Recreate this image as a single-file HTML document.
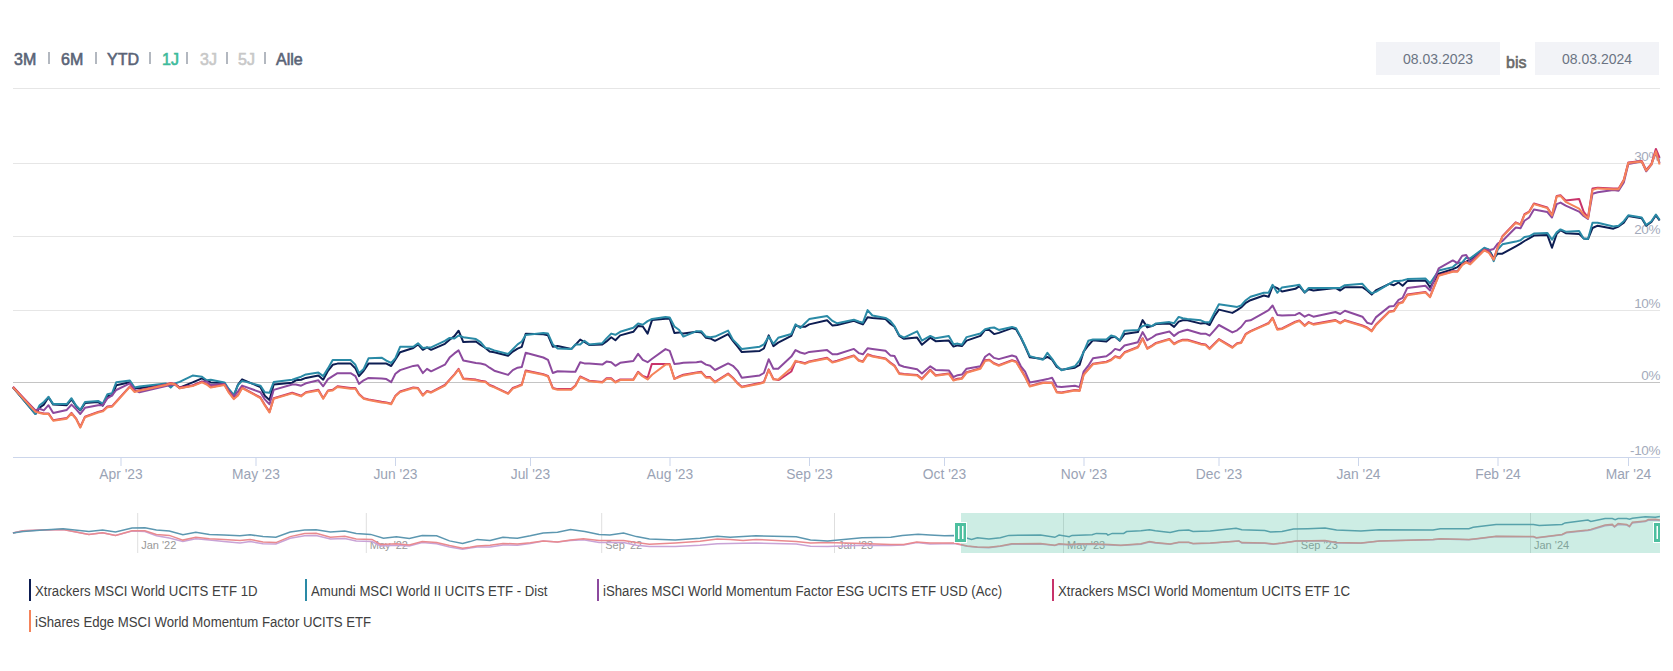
<!DOCTYPE html>
<html><head><meta charset="utf-8">
<style>
html,body{margin:0;padding:0;background:#fff;width:1673px;height:671px;overflow:hidden;position:relative;font-family:"Liberation Sans",sans-serif;}
.rs{position:absolute;top:51px;font-size:16px;font-weight:normal;-webkit-text-stroke:0.6px currentColor;color:#5a6477;line-height:17px;white-space:nowrap}
.sep{position:absolute;top:52px;width:2px;height:12px;background:#b3b8c0}
.date{position:absolute;top:42px;height:33px;width:124px;background:#f2f3f7;color:#6b7383;font-size:14px;line-height:35px;text-align:center}
.bis{position:absolute;left:1506px;top:54px;font-size:16px;font-weight:normal;-webkit-text-stroke:0.6px currentColor;color:#6a6a6a;line-height:17px}
.xl{font-family:"Liberation Sans",sans-serif;font-size:13.8px;fill:#9aa3b5}
.nl{font-family:"Liberation Sans",sans-serif;font-size:11px;fill:#999}
.yl{font-family:"Liberation Sans",sans-serif;font-size:13.5px;letter-spacing:-0.4px;fill:#a4abbb}
.lg{position:absolute;font-size:13.2px;color:#404040;line-height:16px;white-space:nowrap;transform:scaleY(1.12);transform-origin:0 0}
.lb{position:absolute;width:2px;height:22px}
</style></head><body>
<div class="rs" style="left:14px">3M</div>
<div class="sep" style="left:48px"></div>
<div class="rs" style="left:61px">6M</div>
<div class="sep" style="left:95px"></div>
<div class="rs" style="left:107px">YTD</div>
<div class="sep" style="left:149px"></div>
<div class="rs" style="left:162px;color:#3dbb9c">1J</div>
<div class="sep" style="left:186px"></div>
<div class="rs" style="left:200px;color:#c8c8c8">3J</div>
<div class="sep" style="left:226px"></div>
<div class="rs" style="left:238px;color:#c8c8c8">5J</div>
<div class="sep" style="left:264px"></div>
<div class="rs" style="left:276px">Alle</div>
<div class="date" style="left:1376px">08.03.2023</div>
<div class="bis">bis</div>
<div class="date" style="left:1535px">08.03.2024</div>
<svg width="1673" height="671" style="position:absolute;left:0;top:0">
<rect x="13" y="88" width="1647" height="1" fill="#e6e6e6"/>
<rect x="13" y="163.0" width="1647" height="1" fill="#e6e6e6"/>
<rect x="13" y="236.0" width="1647" height="1" fill="#e6e6e6"/>
<rect x="13" y="310.0" width="1647" height="1" fill="#e6e6e6"/>
<rect x="13" y="382" width="1647" height="1" fill="#c4c4c4"/>
<rect x="13" y="457" width="1647" height="1" fill="#ccd6eb"/>
<rect x="120.5" y="457" width="1" height="9" fill="#ccd6eb"/>
<text x="121.0" y="479" text-anchor="middle" class="xl">Apr '23</text>
<rect x="255.5" y="457" width="1" height="9" fill="#ccd6eb"/>
<text x="256.0" y="479" text-anchor="middle" class="xl">May '23</text>
<rect x="395.0" y="457" width="1" height="9" fill="#ccd6eb"/>
<text x="395.5" y="479" text-anchor="middle" class="xl">Jun '23</text>
<rect x="530.0" y="457" width="1" height="9" fill="#ccd6eb"/>
<text x="530.5" y="479" text-anchor="middle" class="xl">Jul '23</text>
<rect x="669.5" y="457" width="1" height="9" fill="#ccd6eb"/>
<text x="670.0" y="479" text-anchor="middle" class="xl">Aug '23</text>
<rect x="809.0" y="457" width="1" height="9" fill="#ccd6eb"/>
<text x="809.5" y="479" text-anchor="middle" class="xl">Sep '23</text>
<rect x="944.0" y="457" width="1" height="9" fill="#ccd6eb"/>
<text x="944.5" y="479" text-anchor="middle" class="xl">Oct '23</text>
<rect x="1083.5" y="457" width="1" height="9" fill="#ccd6eb"/>
<text x="1084.0" y="479" text-anchor="middle" class="xl">Nov '23</text>
<rect x="1218.5" y="457" width="1" height="9" fill="#ccd6eb"/>
<text x="1219.0" y="479" text-anchor="middle" class="xl">Dec '23</text>
<rect x="1358.0" y="457" width="1" height="9" fill="#ccd6eb"/>
<text x="1358.5" y="479" text-anchor="middle" class="xl">Jan '24</text>
<rect x="1497.5" y="457" width="1" height="9" fill="#ccd6eb"/>
<text x="1498.0" y="479" text-anchor="middle" class="xl">Feb '24</text>
<rect x="1628.0" y="457" width="1" height="9" fill="#ccd6eb"/>
<text x="1628.5" y="479" text-anchor="middle" class="xl">Mar '24</text>
<text x="1660" y="160.5" text-anchor="end" class="yl">30%</text>
<text x="1660" y="233.5" text-anchor="end" class="yl">20%</text>
<text x="1660" y="307.5" text-anchor="end" class="yl">10%</text>
<text x="1660" y="379.5" text-anchor="end" class="yl">0%</text>
<text x="1660" y="454.5" text-anchor="end" class="yl">-10%</text>
<rect x="137.2" y="513" width="1" height="40" fill="#000" fill-opacity="0.13"/>
<text x="141.2" y="549" class="nl">Jan '22</text>
<rect x="365.8" y="513" width="1" height="40" fill="#000" fill-opacity="0.13"/>
<text x="369.8" y="549" class="nl">May '22</text>
<rect x="601.2" y="513" width="1" height="40" fill="#000" fill-opacity="0.13"/>
<text x="605.2" y="549" class="nl">Sep '22</text>
<rect x="834.0" y="513" width="1" height="40" fill="#000" fill-opacity="0.13"/>
<text x="838.0" y="549" class="nl">Jan '23</text>
<rect x="1063.0" y="513" width="1" height="40" fill="#000" fill-opacity="0.13"/>
<text x="1067.0" y="549" class="nl">May '23</text>
<rect x="1296.8" y="513" width="1" height="40" fill="#000" fill-opacity="0.13"/>
<text x="1300.8" y="549" class="nl">Sep '23</text>
<rect x="1530.0" y="513" width="1" height="40" fill="#000" fill-opacity="0.13"/>
<text x="1534.0" y="549" class="nl">Jan '24</text>
<path d="M12.9,533.0 L23.0,530.8 L43.0,530.1 L63.1,529.4 L88.9,534.4 L102.6,532.7 L115.5,535.4 L132.0,531.1 L144.9,531.5 L156.4,535.8 L169.3,538.0 L182.9,541.6 L195.8,538.7 L209.4,540.1 L223.8,541.6 L240.0,543.0 L250.1,541.6 L263.0,543.7 L275.9,544.0 L290.2,538.3 L304.6,535.8 L316.1,535.6 L330.4,539.1 L344.8,538.4 L356.2,541.1 L372.0,541.6 L380.6,545.9 L396.4,545.2 L409.3,545.9 L422.2,542.6 L436.6,543.7 L449.5,546.9 L462.6,549.2 L470.0,548.0 L477.2,546.9 L490.1,546.9 L503.0,544.9 L517.4,545.2 L530.3,543.4 L543.2,541.1 L557.5,542.0 L570.5,540.6 L583.4,539.7 L599.1,542.6 L623.5,542.6 L636.4,545.2 L649.4,546.6 L675.2,546.6 L700.0,545.2 L717.3,543.7 L756.0,543.0 L796.2,544.0 L810.5,546.3 L827.7,546.6 L862.1,545.2 L890.8,545.5 L903.7,544.9 L916.7,542.6 L930.0,544.0 L954.4,543.4 L967.3,546.3 L977.4,547.3 L988.9,547.7 L1000.3,546.3 L1011.8,544.2 L1040.5,543.9 L1054.8,545.6 L1059.1,544.2 L1069.2,544.9 L1077.8,544.4 L1092.1,544.2 L1109.4,544.9 L1120.8,545.6 L1140.9,544.2 L1149.5,542.0 L1155.3,543.0 L1170.1,544.3 L1178.7,542.6 L1188.7,542.6 L1193.0,543.7 L1210.2,543.3 L1238.9,541.1 L1241.8,542.9 L1264.8,543.3 L1273.4,544.3 L1282.0,543.3 L1296.3,541.1 L1325.0,540.9 L1336.5,542.9 L1360.9,543.3 L1379.5,541.1 L1433.0,539.7 L1440.2,539.0 L1468.9,539.7 L1476.0,539.0 L1496.1,536.6 L1533.4,536.8 L1536.3,538.0 L1562.1,534.7 L1566.4,532.7 L1587.9,530.5 L1590.8,530.0 L1605.1,525.8 L1612.3,525.1 L1614.5,527.1 L1618.1,524.4 L1626.7,525.1 L1629.5,526.8 L1632.4,522.9 L1645.3,521.6 L1648.2,520.2 L1655.3,519.9 L1659.9,520.5" fill="none" stroke="#c9a3d6" stroke-width="1.5"/>
<path d="M12.9,533.0 L23.0,530.8 L43.0,530.1 L63.1,529.4 L88.9,534.4 L102.6,532.7 L115.5,535.4 L132.0,530.8 L144.9,530.8 L156.4,534.4 L169.3,535.4 L182.9,540.1 L195.8,537.3 L209.4,538.7 L223.8,539.4 L240.0,540.6 L250.1,539.4 L263.0,542.0 L275.9,542.6 L290.2,536.6 L304.6,533.4 L316.1,533.3 L330.4,537.3 L344.8,536.3 L356.2,539.1 L372.0,539.4 L380.6,544.4 L396.4,543.7 L409.3,544.9 L422.2,541.6 L436.6,542.6 L449.5,545.6 L462.6,548.3 L470.0,547.3 L477.2,545.9 L490.1,545.2 L503.0,543.4 L517.4,544.0 L530.3,542.7 L543.2,540.9 L557.5,542.0 L570.5,539.9 L583.4,538.7 L599.1,540.6 L623.5,540.6 L636.4,542.6 L649.4,544.2 L675.2,543.0 L700.0,541.3 L717.3,539.0 L730.2,539.4 L743.1,540.6 L756.0,539.4 L796.2,541.6 L810.5,543.0 L827.7,542.6 L862.1,543.4 L890.8,544.4 L903.7,544.4 L916.7,542.0 L930.0,543.0 L954.4,543.0 L967.3,545.9 L977.4,546.9 L988.9,547.3 L1000.3,545.9 L1011.8,543.7 L1040.5,543.4 L1054.8,545.2 L1059.1,543.7 L1069.2,544.4 L1077.8,544.0 L1092.1,543.7 L1109.4,544.4 L1120.8,545.2 L1140.9,543.7 L1149.5,541.6 L1155.3,542.6 L1170.1,544.0 L1178.7,542.3 L1188.7,542.3 L1193.0,543.4 L1210.2,543.0 L1238.9,540.9 L1241.8,542.6 L1264.8,543.0 L1273.4,544.0 L1282.0,543.0 L1296.3,540.9 L1325.0,540.6 L1336.5,542.6 L1360.9,543.0 L1379.5,540.9 L1433.0,539.4 L1440.2,538.7 L1468.9,539.4 L1476.0,538.7 L1496.1,536.3 L1533.4,536.6 L1536.3,537.7 L1562.1,534.4 L1566.4,532.3 L1587.9,530.1 L1590.8,529.4 L1605.1,525.1 L1612.3,524.4 L1614.5,526.5 L1618.1,523.6 L1626.7,524.4 L1629.5,526.2 L1632.4,522.2 L1645.3,521.1 L1648.2,519.6 L1655.3,519.3 L1659.9,520.1" fill="none" stroke="#e98a8f" stroke-width="1.5"/>
<path d="M12.9,533.0 L23.0,531.5 L43.0,530.1 L63.1,528.7 L88.9,531.5 L102.6,530.1 L115.5,532.0 L132.0,528.0 L144.9,527.7 L156.4,530.1 L169.3,531.1 L182.9,534.8 L195.8,532.3 L209.4,534.4 L223.8,535.1 L240.0,535.8 L250.1,534.8 L263.0,536.6 L275.9,537.3 L290.2,532.0 L304.6,530.1 L316.1,529.8 L330.4,532.0 L344.8,531.1 L356.2,533.4 L370.6,534.4 L383.5,538.3 L396.4,536.8 L409.3,538.4 L422.2,535.6 L436.6,535.8 L449.5,540.9 L462.6,543.4 L470.0,541.6 L477.2,539.4 L490.1,540.6 L503.0,537.3 L517.4,538.3 L530.3,535.8 L543.2,533.0 L557.5,532.3 L570.5,529.4 L584.8,531.5 L599.1,534.4 L609.9,535.1 L623.5,533.0 L636.4,536.6 L649.4,539.1 L675.2,539.9 L700.0,538.3 L717.3,536.3 L730.2,537.3 L756.0,535.8 L796.2,536.8 L810.5,540.1 L827.7,540.9 L862.1,537.7 L890.8,537.3 L902.3,535.4 L918.1,534.3 L930.0,535.1 L944.4,535.8 L953.7,535.4 L967.3,538.3 L971.6,539.4 L977.4,537.7 L988.9,539.0 L1000.3,537.7 L1008.9,535.4 L1040.5,535.1 L1054.8,537.3 L1059.1,535.1 L1069.2,536.8 L1072.1,535.4 L1092.1,534.8 L1096.4,533.4 L1106.5,533.7 L1107.9,535.1 L1112.2,533.4 L1123.7,533.4 L1126.6,531.5 L1140.9,530.8 L1149.5,529.7 L1155.3,530.8 L1170.1,532.5 L1178.7,530.5 L1188.7,530.1 L1193.0,531.5 L1210.2,531.1 L1236.1,528.2 L1241.8,529.7 L1264.8,530.5 L1270.5,532.0 L1282.0,531.5 L1293.5,529.1 L1307.8,528.7 L1325.0,528.0 L1336.5,530.1 L1360.9,531.1 L1379.5,529.7 L1433.0,530.1 L1440.2,528.7 L1468.9,528.7 L1473.2,527.2 L1496.1,524.4 L1533.4,524.4 L1539.2,525.4 L1562.1,524.4 L1565.0,522.9 L1587.9,520.1 L1590.8,521.5 L1605.1,518.6 L1612.3,518.6 L1615.2,519.6 L1618.1,518.6 L1626.7,518.6 L1629.5,519.3 L1632.4,518.2 L1645.3,516.8 L1655.3,517.2 L1659.9,516.5" fill="none" stroke="#5c97b0" stroke-width="1.5"/>
<rect x="961" y="513" width="699" height="40" fill="#4dbf9f" fill-opacity="0.28"/>
<rect x="954.5" y="522.5" width="12" height="20" fill="#4dbf9f" stroke="#fff" stroke-width="1"/>
<rect x="958" y="526" width="1.5" height="13" fill="#fff"/><rect x="962" y="526" width="1.5" height="13" fill="#fff"/>
<rect x="1653.5" y="522.5" width="12" height="20" fill="#4dbf9f" stroke="#fff" stroke-width="1"/>
<rect x="1656.5" y="526" width="1.5" height="13" fill="#fff"/>
<rect x="1660" y="505" width="13" height="60" fill="#fff"/>
<path d="M13.0,387.4 L35.5,414.0 L39.6,407.8 L43.8,404.6 L48.5,397.3 L53.2,404.6 L66.8,405.2 L71.5,399.4 L76.2,406.2 L80.3,410.4 L85.0,403.1 L98.1,402.0 L102.8,405.7 L107.4,396.3 L112.1,395.3 L116.3,385.3 L129.9,382.2 L134.6,388.3 L139.4,388.2 L166.0,384.0 L170.7,385.0 L174.9,384.0 L179.6,387.6 L192.6,382.4 L202.0,378.3 L206.7,380.9 L210.8,382.4 L224.4,383.0 L228.6,390.3 L233.8,396.0 L238.0,384.5 L242.1,379.3 L260.4,387.1 L264.8,395.8 L269.5,400.0 L273.7,384.5 L292.2,382.7 L295.8,380.3 L301.1,379.7 L305.9,377.9 L318.4,375.5 L323.2,379.7 L328.0,370.8 L332.7,364.8 L337.5,363.6 L350.6,363.6 L355.4,368.4 L359.0,376.1 L363.7,370.8 L368.5,363.6 L381.6,363.6 L386.4,363.6 L391.2,366.0 L395.4,359.4 L400.1,352.2 L413.3,348.0 L418.0,344.4 L422.8,349.8 L427.0,347.4 L431.1,349.8 L444.9,343.8 L449.6,339.7 L454.4,336.1 L458.6,330.7 L463.3,342.1 L475.9,341.5 L480.6,345.0 L485.4,348.0 L489.6,351.6 L494.3,352.2 L508.1,355.8 L512.8,351.6 L517.6,348.6 L521.8,346.8 L525.7,333.7 L543.3,334.2 L548.0,335.4 L552.8,346.7 L557.6,346.1 L571.3,349.1 L575.4,344.9 L580.2,339.6 L584.4,342.0 L589.2,344.9 L602.3,344.4 L606.5,341.4 L611.2,337.2 L615.4,340.2 L620.2,335.4 L633.3,331.8 L638.1,325.9 L642.8,326.5 L647.6,333.6 L652.1,319.9 L665.5,318.7 L669.7,318.7 L674.4,333.0 L679.2,332.4 L683.4,333.6 L696.5,331.8 L701.3,332.4 L706.0,337.8 L710.2,338.4 L715.0,340.8 L728.1,334.2 L732.9,340.8 L737.6,346.7 L741.8,352.1 L759.7,350.9 L763.9,348.5 L768.7,335.4 L773.4,346.1 L778.2,342.6 L791.3,335.8 L795.5,325.6 L800.3,326.8 L805.0,326.8 L809.2,324.4 L827.1,320.3 L832.5,325.6 L837.2,325.0 L853.9,320.9 L858.7,322.7 L862.9,324.4 L867.6,317.3 L872.4,317.9 L885.5,319.1 L890.3,323.8 L894.5,326.8 L899.2,335.8 L904.0,338.8 L917.1,337.6 L921.9,344.8 L930.3,337.7 L935.6,341.2 L948.8,340.6 L953.5,346.6 L957.7,345.4 L961.9,346.0 L966.6,340.6 L980.4,335.9 L985.1,329.9 L989.3,329.9 L994.1,334.1 L998.8,332.9 L1012.0,328.1 L1016.1,329.3 L1020.9,337.7 L1025.1,346.6 L1029.8,357.3 L1043.0,359.1 L1047.4,356.9 L1052.1,359.6 L1056.8,367.0 L1061.5,369.7 L1074.9,367.7 L1079.6,365.0 L1083.6,351.6 L1088.3,345.5 L1093.0,340.2 L1106.4,341.5 L1111.1,337.5 L1115.1,336.8 L1119.8,340.8 L1124.5,334.1 L1137.9,332.1 L1142.6,320.1 L1147.3,327.4 L1152.0,326.1 L1156.0,324.1 L1169.4,323.4 L1174.1,326.9 L1178.7,321.6 L1182.7,320.3 L1187.4,320.3 L1200.8,323.6 L1205.5,323.0 L1209.6,325.0 L1214.3,316.3 L1218.9,309.6 L1232.4,312.9 L1237.1,310.2 L1241.1,307.5 L1245.8,302.9 L1250.5,300.2 L1263.9,295.5 L1268.6,296.8 L1272.6,286.1 L1277.3,288.1 L1282.0,291.5 L1295.4,288.8 L1299.4,286.1 L1304.7,292.5 L1308.7,289.2 L1313.4,290.5 L1335.5,287.9 L1340.2,290.5 L1344.9,287.2 L1362.4,287.2 L1367.1,290.5 L1371.7,294.6 L1375.8,290.5 L1389.2,283.8 L1393.9,285.2 L1398.6,282.5 L1402.6,285.8 L1407.3,281.1 L1425.4,280.5 L1430.1,287.2 L1438.7,273.8 L1452.8,269.1 L1457.5,267.1 L1462.2,263.1 L1466.2,261.7 L1470.2,259.7 L1484.3,249.0 L1489.0,249.7 L1493.7,258.4 L1497.7,253.7 L1502.4,253.7 L1515.8,246.3 L1520.5,243.6 L1524.5,241.0 L1529.2,238.3 L1533.9,235.6 L1547.3,234.9 L1552.0,247.7 L1556.7,233.9 L1560.5,230.2 L1565.7,233.2 L1579.1,233.9 L1583.6,238.4 L1588.0,239.1 L1592.5,228.0 L1597.7,225.7 L1613.4,228.7 L1618.6,226.5 L1623.8,222.7 L1628.3,216.0 L1641.7,218.3 L1646.2,225.7 L1651.4,222.0 L1655.9,215.3 L1659.6,220.5" fill="none" stroke="#0d1d52" stroke-width="2" stroke-linejoin="round" stroke-linecap="butt"/>
<path d="M13.0,387.4 L35.5,414.0 L39.6,405.2 L43.8,402.0 L48.5,396.8 L53.2,404.1 L66.8,404.1 L71.5,398.2 L76.2,405.7 L80.3,409.9 L85.0,402.0 L98.1,401.0 L102.8,403.6 L107.4,394.2 L112.1,393.2 L116.3,382.2 L129.9,380.6 L134.6,387.5 L139.4,386.6 L166.0,383.5 L170.7,387.6 L174.9,383.5 L179.6,381.9 L192.6,375.6 L202.0,376.7 L206.7,380.3 L210.8,379.8 L224.4,382.4 L228.6,388.7 L233.8,394.9 L238.0,385.0 L242.1,380.9 L260.4,385.6 L264.8,392.2 L269.5,392.8 L273.7,382.1 L292.2,379.7 L295.8,378.5 L301.1,376.7 L305.9,374.4 L318.4,372.6 L323.2,376.1 L328.0,368.4 L332.7,360.0 L337.5,360.0 L350.6,360.0 L355.4,364.8 L359.0,373.2 L363.7,369.0 L368.5,358.3 L381.6,357.7 L386.4,360.6 L391.2,363.0 L395.4,358.2 L400.1,346.8 L413.3,346.8 L418.0,343.3 L422.8,348.0 L427.0,347.4 L431.1,347.4 L444.9,340.9 L449.6,337.9 L454.4,338.5 L458.6,335.5 L463.3,337.3 L475.9,339.1 L480.6,342.1 L485.4,348.0 L489.6,348.6 L494.3,350.4 L508.1,354.0 L512.8,349.2 L517.6,344.4 L521.8,341.5 L525.7,334.9 L543.3,333.0 L548.0,333.6 L552.8,344.4 L557.6,348.5 L571.3,349.1 L575.4,344.4 L580.2,344.4 L584.4,340.8 L589.2,344.4 L602.3,343.2 L606.5,338.4 L611.2,333.6 L615.4,334.8 L620.2,331.8 L633.3,327.7 L638.1,323.5 L642.8,324.7 L647.6,321.1 L652.1,319.0 L665.5,316.9 L669.7,317.5 L674.4,326.5 L679.2,330.0 L683.4,336.6 L696.5,331.2 L701.3,331.2 L706.0,336.6 L710.2,337.2 L715.0,336.6 L728.1,330.6 L732.9,339.6 L737.6,344.4 L741.8,349.1 L759.7,346.7 L763.9,344.4 L768.7,336.6 L773.4,343.8 L778.2,337.8 L791.3,334.0 L795.5,324.4 L800.3,328.0 L805.0,323.3 L809.2,319.1 L827.1,316.1 L832.5,320.9 L837.2,323.3 L853.9,319.7 L858.7,321.5 L862.9,322.7 L867.6,310.1 L872.4,315.5 L885.5,317.9 L890.3,320.9 L894.5,326.2 L899.2,335.2 L904.0,337.6 L917.1,331.3 L921.9,340.6 L930.3,335.9 L935.6,338.3 L948.8,335.9 L953.5,344.2 L957.7,343.6 L961.9,344.8 L966.6,337.1 L980.4,333.5 L985.1,329.3 L989.3,328.1 L994.1,327.5 L998.8,329.9 L1012.0,326.9 L1016.1,328.1 L1020.9,337.1 L1025.1,346.0 L1029.8,356.1 L1043.0,359.7 L1047.4,352.9 L1052.1,358.9 L1056.8,365.7 L1061.5,370.3 L1074.9,366.3 L1079.6,360.3 L1083.6,352.2 L1088.3,340.8 L1093.0,339.5 L1106.4,339.5 L1111.1,335.5 L1115.1,336.8 L1119.8,340.2 L1124.5,330.8 L1137.9,330.1 L1142.6,326.1 L1147.3,324.8 L1152.0,326.1 L1156.0,323.4 L1169.4,322.1 L1174.1,323.2 L1178.7,316.9 L1182.7,318.3 L1187.4,318.9 L1200.8,320.3 L1205.5,322.3 L1209.6,322.3 L1214.3,312.9 L1218.9,304.2 L1232.4,306.2 L1237.1,306.9 L1241.1,305.5 L1245.8,300.2 L1250.5,296.8 L1263.9,292.8 L1268.6,292.8 L1272.6,284.8 L1277.3,292.8 L1282.0,287.4 L1295.4,285.4 L1299.4,284.8 L1304.7,292.5 L1308.7,287.9 L1313.4,287.9 L1335.5,287.9 L1340.2,287.9 L1344.9,285.2 L1362.4,283.8 L1367.1,289.2 L1371.7,293.2 L1375.8,291.9 L1389.2,283.8 L1393.9,281.1 L1398.6,281.1 L1402.6,280.5 L1407.3,279.1 L1425.4,278.5 L1430.1,283.2 L1438.7,270.5 L1452.8,267.1 L1457.5,263.1 L1462.2,262.4 L1466.2,257.7 L1470.2,258.4 L1484.3,247.7 L1489.0,249.7 L1493.7,261.1 L1497.7,249.7 L1502.4,244.3 L1515.8,241.6 L1520.5,240.3 L1524.5,236.9 L1529.2,236.3 L1533.9,233.6 L1547.3,232.9 L1552.0,239.6 L1556.7,232.4 L1560.5,229.4 L1565.7,231.7 L1579.1,230.9 L1583.6,238.4 L1588.0,239.1 L1592.5,222.7 L1597.7,222.7 L1613.4,226.5 L1618.6,225.7 L1623.8,221.2 L1628.3,215.3 L1641.7,217.5 L1646.2,225.0 L1651.4,221.2 L1655.9,214.5 L1659.6,219.8" fill="none" stroke="#2a8aa6" stroke-width="2" stroke-linejoin="round" stroke-linecap="butt"/>
<path d="M13.0,387.4 L35.5,410.4 L39.6,408.8 L43.8,410.4 L48.5,405.2 L53.2,413.0 L66.8,409.9 L71.5,404.6 L76.2,409.3 L80.3,414.0 L85.0,407.8 L98.1,405.2 L102.8,405.2 L107.4,398.4 L112.1,395.3 L116.3,390.0 L129.9,383.3 L134.6,389.9 L139.4,392.3 L166.0,386.1 L170.7,385.0 L174.9,384.5 L179.6,388.2 L192.6,385.6 L202.0,381.4 L206.7,381.4 L210.8,385.0 L224.4,384.0 L228.6,390.3 L233.8,396.5 L238.0,391.3 L242.1,385.6 L260.4,392.3 L264.8,399.4 L269.5,404.2 L273.7,389.9 L292.2,384.5 L295.8,384.5 L301.1,385.7 L305.9,383.3 L318.4,380.3 L323.2,386.3 L328.0,379.1 L332.7,376.1 L337.5,373.2 L350.6,373.2 L355.4,376.1 L359.0,383.9 L363.7,380.3 L368.5,377.9 L381.6,378.5 L386.4,379.1 L391.2,382.1 L395.4,373.7 L400.1,370.1 L413.3,365.9 L418.0,365.3 L422.8,373.1 L427.0,368.9 L431.1,371.3 L444.9,364.7 L449.6,357.6 L454.4,353.4 L458.6,350.4 L463.3,360.5 L475.9,362.9 L480.6,363.5 L485.4,364.7 L489.6,367.7 L494.3,370.7 L508.1,374.9 L512.8,370.1 L517.6,367.7 L521.8,367.1 L525.7,352.7 L543.3,357.5 L548.0,359.9 L552.8,373.0 L557.6,371.2 L571.3,371.8 L575.4,371.8 L580.2,362.2 L584.4,363.4 L589.2,363.4 L602.3,364.6 L606.5,361.6 L611.2,362.2 L615.4,365.8 L620.2,362.8 L633.3,361.0 L638.1,353.9 L642.8,359.9 L647.6,362.2 L652.1,358.7 L665.5,349.1 L669.7,350.9 L674.4,364.0 L679.2,363.4 L683.4,362.8 L696.5,362.2 L701.3,361.6 L706.0,364.6 L710.2,365.8 L715.0,370.0 L728.1,363.4 L732.9,365.8 L737.6,370.6 L741.8,377.7 L759.7,375.4 L763.9,373.0 L768.7,359.3 L773.4,368.8 L778.2,368.8 L791.3,356.6 L795.5,350.1 L800.3,352.5 L805.0,353.7 L809.2,351.9 L827.1,350.1 L832.5,354.3 L837.2,354.3 L853.9,348.9 L858.7,353.1 L862.9,354.3 L867.6,348.3 L872.4,348.9 L885.5,350.7 L890.3,355.4 L894.5,356.0 L899.2,365.0 L904.0,366.8 L917.1,369.2 L921.9,373.4 L930.3,366.3 L935.6,369.9 L948.8,370.4 L953.5,377.0 L957.7,375.2 L961.9,374.6 L966.6,368.7 L980.4,366.3 L985.1,356.7 L989.3,353.8 L994.1,357.9 L998.8,359.1 L1012.0,355.5 L1016.1,356.7 L1020.9,366.3 L1025.1,371.6 L1029.8,382.4 L1043.0,380.0 L1047.4,379.1 L1052.1,377.7 L1056.8,386.4 L1061.5,387.1 L1074.9,385.8 L1079.6,387.1 L1083.6,371.7 L1088.3,365.7 L1093.0,358.3 L1106.4,356.3 L1111.1,352.9 L1115.1,348.9 L1119.8,350.2 L1124.5,345.5 L1137.9,342.2 L1142.6,332.1 L1147.3,340.2 L1152.0,337.5 L1156.0,334.8 L1169.4,331.5 L1174.1,335.9 L1178.7,332.4 L1182.7,331.0 L1187.4,329.7 L1200.8,333.7 L1205.5,333.7 L1209.6,335.7 L1214.3,330.3 L1218.9,325.0 L1232.4,332.4 L1237.1,330.3 L1241.1,327.0 L1245.8,321.0 L1250.5,320.3 L1263.9,312.9 L1268.6,310.2 L1272.6,305.5 L1277.3,314.9 L1282.0,315.6 L1295.4,314.9 L1299.4,312.9 L1304.7,316.7 L1308.7,314.7 L1313.4,316.7 L1335.5,312.0 L1340.2,314.0 L1344.9,310.7 L1362.4,316.7 L1367.1,322.7 L1371.7,324.1 L1375.8,317.4 L1389.2,306.6 L1393.9,306.0 L1398.6,299.9 L1402.6,297.9 L1407.3,287.9 L1425.4,285.8 L1430.1,290.5 L1438.7,268.4 L1452.8,260.4 L1457.5,263.1 L1462.2,255.7 L1466.2,255.0 L1470.2,261.7 L1484.3,249.7 L1489.0,250.3 L1493.7,249.0 L1497.7,243.6 L1502.4,241.0 L1515.8,227.5 L1520.5,228.2 L1524.5,220.8 L1529.2,217.5 L1533.9,209.4 L1547.3,212.1 L1552.0,217.5 L1556.7,204.1 L1560.5,202.6 L1565.7,205.6 L1579.1,211.6 L1583.6,216.0 L1588.0,219.0 L1592.5,193.7 L1597.7,192.2 L1613.4,189.9 L1618.6,190.7 L1623.8,182.5 L1628.3,163.9 L1641.7,161.6 L1646.2,171.3 L1651.4,164.6 L1655.9,151.9 L1659.6,163.1" fill="none" stroke="#8c4a9e" stroke-width="2" stroke-linejoin="round" stroke-linecap="butt"/>
<path d="M13.0,386.8 L35.5,411.3 L39.6,412.4 L43.8,413.4 L48.5,413.4 L53.2,420.2 L66.8,418.1 L71.5,412.9 L76.2,418.6 L80.3,427.0 L85.0,416.6 L98.1,411.9 L102.8,410.8 L107.4,406.6 L112.1,406.1 L116.3,401.4 L129.9,386.3 L134.6,391.4 L139.4,390.2 L166.0,384.4 L170.7,382.9 L174.9,383.9 L179.6,387.6 L192.6,385.5 L202.0,381.8 L206.7,383.9 L210.8,387.0 L224.4,384.4 L228.6,391.7 L233.8,398.5 L238.0,394.9 L242.1,387.6 L260.4,397.5 L264.8,404.8 L269.5,411.9 L273.7,398.2 L292.2,392.8 L295.8,394.0 L301.1,395.8 L305.9,392.2 L318.4,389.8 L323.2,398.2 L328.0,390.4 L332.7,389.8 L337.5,386.3 L350.6,388.1 L355.4,388.1 L359.0,394.0 L363.7,398.2 L368.5,399.4 L381.6,401.8 L386.4,402.4 L391.2,403.6 L395.4,395.7 L400.1,391.5 L413.3,387.4 L418.0,388.0 L422.8,395.1 L427.0,390.9 L431.1,392.1 L444.9,385.0 L449.6,379.6 L454.4,374.3 L458.6,368.9 L463.3,378.4 L475.9,379.6 L480.6,380.8 L485.4,381.4 L489.6,385.0 L494.3,386.8 L508.1,393.3 L512.8,388.0 L517.6,386.2 L521.8,384.4 L525.7,370.6 L543.3,374.2 L548.0,375.9 L552.8,387.9 L557.6,389.1 L571.3,389.1 L575.4,385.5 L580.2,376.5 L584.4,378.3 L589.2,380.7 L602.3,381.9 L606.5,378.3 L611.2,378.3 L615.4,381.9 L620.2,379.5 L633.3,379.5 L638.1,371.8 L642.8,375.9 L647.6,377.7 L651.8,364.0 L652.4,364.0 L665.5,364.0 L669.7,364.0 L674.4,378.9 L679.2,376.5 L683.4,374.8 L696.5,372.4 L701.3,371.8 L706.0,377.1 L710.2,377.1 L715.0,381.9 L728.1,373.6 L732.9,377.7 L737.6,383.1 L741.8,386.7 L759.7,383.1 L763.9,381.9 L768.7,369.4 L773.4,378.9 L778.2,380.1 L780.0,379.3 L791.3,371.5 L795.5,361.4 L800.3,362.0 L805.0,363.2 L809.2,361.4 L827.1,357.8 L832.5,362.0 L837.2,360.8 L853.9,355.4 L858.7,360.2 L862.9,361.4 L867.6,354.3 L872.4,356.0 L885.5,358.4 L890.3,362.6 L894.5,365.6 L899.2,373.3 L904.0,373.9 L917.1,374.9 L921.9,378.8 L930.3,369.8 L935.6,375.2 L948.8,373.4 L953.5,380.0 L957.7,378.8 L961.9,378.2 L966.6,372.2 L980.4,368.1 L985.1,360.3 L989.3,359.7 L994.1,363.3 L998.8,365.1 L1012.0,360.3 L1016.1,361.5 L1020.9,369.3 L1025.1,376.4 L1029.8,385.9 L1043.0,382.4 L1047.4,382.5 L1052.1,382.5 L1056.8,391.9 L1061.5,392.5 L1074.9,389.9 L1079.6,390.5 L1083.6,374.4 L1088.3,369.1 L1093.0,363.7 L1106.4,361.7 L1111.1,359.7 L1115.1,356.3 L1119.8,357.7 L1124.5,352.3 L1137.9,346.9 L1142.6,338.2 L1147.3,348.3 L1152.0,345.6 L1156.0,342.9 L1169.4,338.9 L1174.1,343.7 L1178.7,341.1 L1182.7,339.8 L1187.4,339.8 L1200.8,343.8 L1205.5,344.5 L1209.6,348.5 L1214.3,343.8 L1218.9,339.1 L1232.4,347.2 L1237.1,343.2 L1241.1,342.5 L1245.8,333.8 L1250.5,331.1 L1263.9,325.1 L1268.6,323.0 L1272.6,317.7 L1277.3,329.1 L1282.0,328.4 L1295.4,321.7 L1299.4,320.4 L1304.7,325.5 L1308.7,322.1 L1313.4,324.1 L1335.5,320.1 L1340.2,322.8 L1344.9,320.1 L1362.4,325.5 L1367.1,327.5 L1371.7,330.8 L1375.8,324.8 L1389.2,311.4 L1393.9,310.7 L1398.6,303.3 L1402.6,302.0 L1407.3,294.6 L1425.4,291.9 L1430.1,296.6 L1438.7,275.2 L1452.8,271.2 L1457.5,271.2 L1462.2,264.5 L1466.2,261.8 L1470.2,263.8 L1484.3,249.7 L1489.0,252.4 L1493.7,259.1 L1497.7,247.1 L1502.4,236.3 L1515.8,222.3 L1520.5,224.3 L1524.5,214.2 L1529.2,211.5 L1533.9,203.5 L1547.3,207.5 L1552.0,214.9 L1556.7,196.0 L1560.5,195.3 L1565.7,200.4 L1579.1,198.9 L1583.6,211.6 L1588.0,217.5 L1592.5,188.4 L1597.7,187.8 L1613.4,188.6 L1618.6,188.6 L1623.8,179.7 L1628.3,162.5 L1641.7,161.0 L1646.2,170.0 L1651.4,164.0 L1655.9,148.9 L1659.6,157.9" fill="none" stroke="#c8336a" stroke-width="2" stroke-linejoin="round" stroke-linecap="butt"/>
<path d="M13.0,387.4 L35.5,411.9 L39.6,413.0 L43.8,414.0 L48.5,414.0 L53.2,420.8 L66.8,418.7 L71.5,413.5 L76.2,419.2 L80.3,427.6 L85.0,417.2 L98.1,412.5 L102.8,411.4 L107.4,407.2 L112.1,406.7 L116.3,402.0 L129.9,386.9 L134.6,392.0 L139.4,390.8 L166.0,385.0 L170.7,383.5 L174.9,384.5 L179.6,388.2 L192.6,386.1 L202.0,382.4 L206.7,384.5 L210.8,387.6 L224.4,385.0 L228.6,392.3 L233.8,399.1 L238.0,395.5 L242.1,388.2 L260.4,398.1 L264.8,405.4 L269.5,412.5 L273.7,398.8 L292.2,393.4 L295.8,394.6 L301.1,396.4 L305.9,392.8 L318.4,390.4 L323.2,398.8 L328.0,391.0 L332.7,390.4 L337.5,386.9 L350.6,388.7 L355.4,388.7 L359.0,394.6 L363.7,398.8 L368.5,400.0 L381.6,402.4 L386.4,403.0 L391.2,404.2 L395.4,396.3 L400.1,392.1 L413.3,388.0 L418.0,388.6 L422.8,395.7 L427.0,391.5 L431.1,392.7 L444.9,385.6 L449.6,380.2 L454.4,374.9 L458.6,369.5 L463.3,379.0 L475.9,380.2 L480.6,381.4 L485.4,382.0 L489.6,385.6 L494.3,387.4 L508.1,393.9 L512.8,388.6 L517.6,386.8 L521.8,385.0 L525.7,371.2 L543.3,374.8 L548.0,376.5 L552.8,388.5 L557.6,389.7 L571.3,389.7 L575.4,386.1 L580.2,377.1 L584.4,378.9 L589.2,381.3 L602.3,382.5 L606.5,378.9 L611.2,378.9 L615.4,382.5 L620.2,380.1 L633.3,380.1 L638.1,372.4 L642.8,376.5 L647.6,379.5 L652.1,374.8 L665.5,364.6 L669.7,364.6 L674.4,378.9 L679.2,377.1 L683.4,375.4 L696.5,373.0 L701.3,372.4 L706.0,377.7 L710.2,377.7 L715.0,382.5 L728.1,374.2 L732.9,378.3 L737.6,383.7 L741.8,387.3 L759.7,383.7 L763.9,382.5 L768.7,370.0 L773.4,379.5 L778.2,379.5 L791.3,368.0 L795.5,360.8 L800.3,362.6 L805.0,363.8 L809.2,362.0 L827.1,358.4 L832.5,362.6 L837.2,361.4 L853.9,356.0 L858.7,360.8 L862.9,362.0 L867.6,354.9 L872.4,356.6 L885.5,359.0 L890.3,363.2 L894.5,366.2 L899.2,373.9 L904.0,374.5 L917.1,375.5 L921.9,379.4 L930.3,370.4 L935.6,375.8 L948.8,374.0 L953.5,380.6 L957.7,379.4 L961.9,378.8 L966.6,372.8 L980.4,368.7 L985.1,360.9 L989.3,360.3 L994.1,363.9 L998.8,365.7 L1012.0,360.9 L1016.1,362.1 L1020.9,369.9 L1025.1,377.0 L1029.8,386.5 L1043.0,383.0 L1047.4,383.1 L1052.1,383.1 L1056.8,392.5 L1061.5,393.1 L1074.9,390.5 L1079.6,391.1 L1083.6,375.0 L1088.3,369.7 L1093.0,364.3 L1106.4,362.3 L1111.1,360.3 L1115.1,356.9 L1119.8,358.3 L1124.5,352.9 L1137.9,347.5 L1142.6,338.8 L1147.3,348.9 L1152.0,346.2 L1156.0,343.5 L1169.4,339.5 L1174.1,344.3 L1178.7,341.7 L1182.7,340.4 L1187.4,340.4 L1200.8,344.4 L1205.5,345.1 L1209.6,349.1 L1214.3,344.4 L1218.9,339.7 L1232.4,347.8 L1237.1,343.8 L1241.1,343.1 L1245.8,334.4 L1250.5,331.7 L1263.9,325.7 L1268.6,323.6 L1272.6,318.3 L1277.3,329.7 L1282.0,329.0 L1295.4,322.3 L1299.4,321.0 L1304.7,326.1 L1308.7,322.7 L1313.4,324.7 L1335.5,320.7 L1340.2,323.4 L1344.9,320.7 L1362.4,326.1 L1367.1,328.1 L1371.7,331.4 L1375.8,325.4 L1389.2,312.0 L1393.9,311.3 L1398.6,303.9 L1402.6,302.6 L1407.3,295.2 L1425.4,292.5 L1430.1,297.2 L1438.7,275.8 L1452.8,271.8 L1457.5,271.8 L1462.2,265.1 L1466.2,262.4 L1470.2,264.4 L1484.3,250.3 L1489.0,253.0 L1493.7,259.7 L1497.7,247.7 L1502.4,236.9 L1515.8,222.9 L1520.5,224.9 L1524.5,214.8 L1529.2,212.1 L1533.9,204.1 L1547.3,208.1 L1552.0,215.5 L1556.7,196.6 L1560.5,195.9 L1565.7,201.9 L1579.1,208.6 L1583.6,214.5 L1588.0,218.3 L1592.5,189.9 L1597.7,188.4 L1613.4,189.2 L1618.6,189.2 L1623.8,180.3 L1628.3,163.1 L1641.7,161.6 L1646.2,170.6 L1651.4,164.6 L1655.9,151.2 L1659.6,164.6" fill="none" stroke="#f5835a" stroke-width="2" stroke-linejoin="round" stroke-linecap="butt"/>
</svg>
<div class="lb" style="left:29px;top:579px;background:#0d1d52"></div><div class="lg" style="left:35px;top:583px">Xtrackers MSCI World UCITS ETF 1D</div>
<div class="lb" style="left:305px;top:579px;background:#2a8aa6"></div><div class="lg" style="left:311px;top:583px">Amundi MSCI World II UCITS ETF - Dist</div>
<div class="lb" style="left:597px;top:579px;background:#8c4a9e"></div><div class="lg" style="left:603px;top:583px">iShares MSCI World Momentum Factor ESG UCITS ETF USD (Acc)</div>
<div class="lb" style="left:1052px;top:579px;background:#c8336a"></div><div class="lg" style="left:1058px;top:583px">Xtrackers MSCI World Momentum UCITS ETF 1C</div>
<div class="lb" style="left:29px;top:610px;background:#f5835a"></div><div class="lg" style="left:35px;top:614px">iShares Edge MSCI World Momentum Factor UCITS ETF</div>
</body></html>
